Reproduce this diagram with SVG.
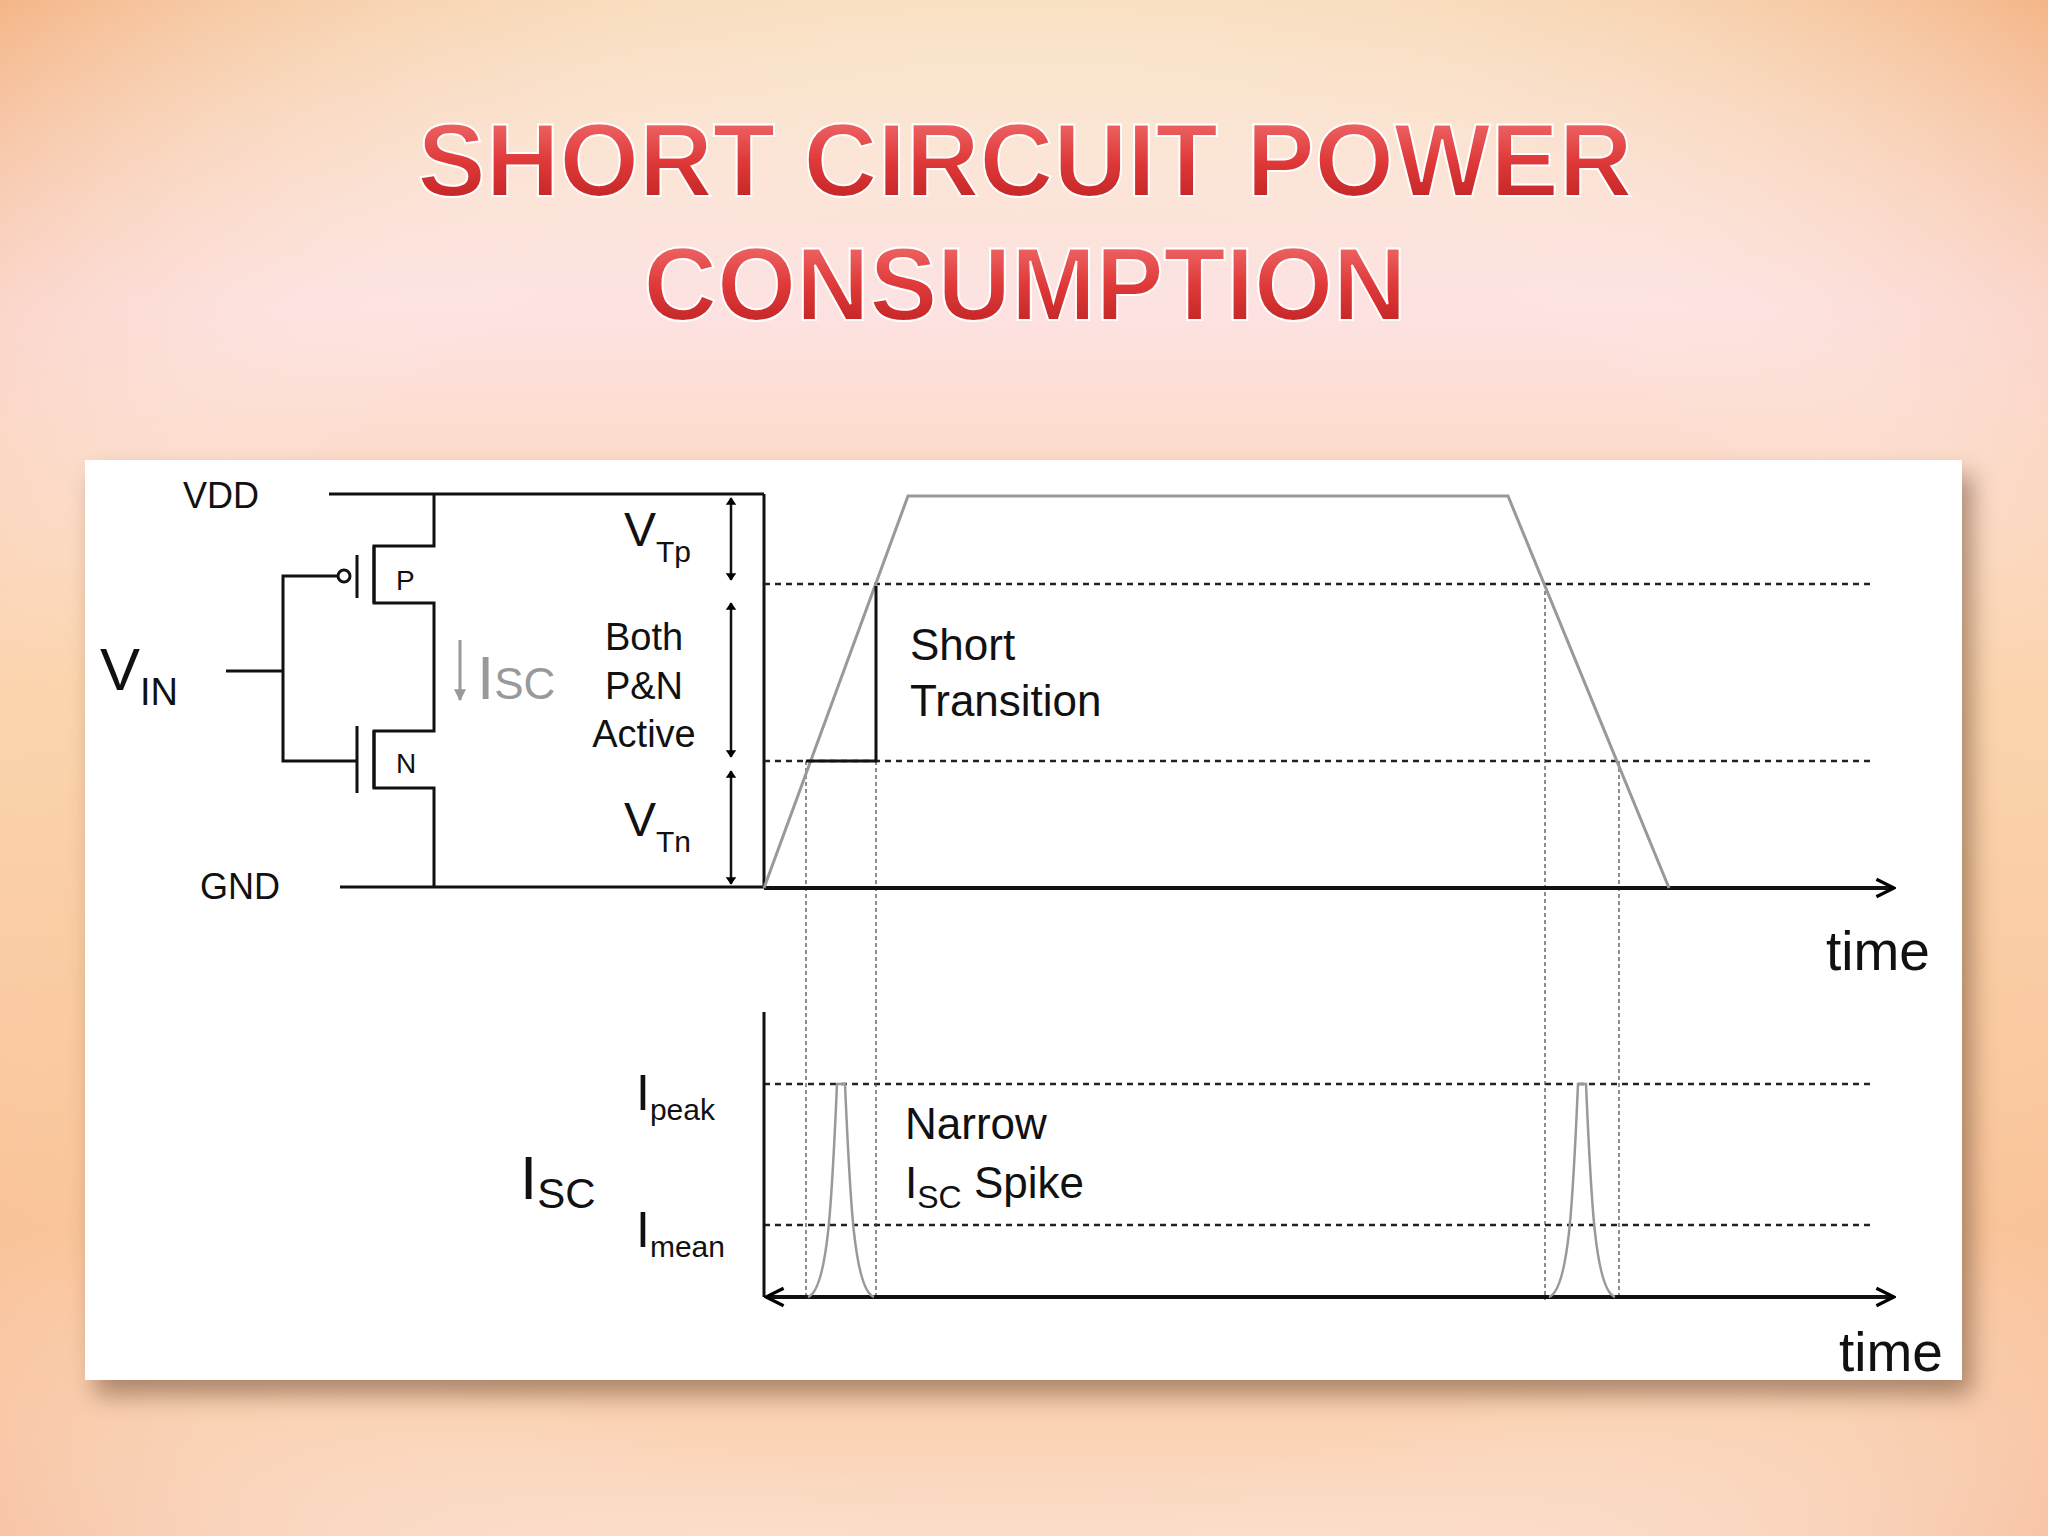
<svg xmlns="http://www.w3.org/2000/svg" width="2048" height="1536" viewBox="0 0 2048 1536">
<defs>
<linearGradient id="bg" x1="0" y1="0" x2="0" y2="1">
<stop offset="0" stop-color="#f9e6c6"/><stop offset="0.2" stop-color="#fde2e2"/><stop offset="0.45" stop-color="#fbd2a8"/><stop offset="0.8" stop-color="#f9c090"/><stop offset="1" stop-color="#fbdcc8"/>
</linearGradient>
<radialGradient id="side" cx="0.5" cy="0.55" r="0.75">
<stop offset="0.55" stop-color="#ffffff" stop-opacity="0"/><stop offset="1" stop-color="#f08a50" stop-opacity="0.55"/>
</radialGradient>
<linearGradient id="red" x1="0" y1="0" x2="0" y2="1">
<stop offset="0" stop-color="#f47a7a"/><stop offset="0.5" stop-color="#e03a3a"/><stop offset="1" stop-color="#b81c1c"/>
</linearGradient>
<filter id="sh" x="-5%" y="-5%" width="115%" height="120%"><feGaussianBlur stdDeviation="12"/></filter>
<marker id="ah" viewBox="0 0 10 16" refX="9" refY="8" markerWidth="16" markerHeight="12" orient="auto-start-reverse" markerUnits="userSpaceOnUse"><path d="M0,1 L10,8 L0,15 z" fill="#000"/></marker>
<marker id="big" viewBox="0 0 20 20" refX="18" refY="10" markerWidth="22" markerHeight="22" orient="auto-start-reverse" markerUnits="userSpaceOnUse"><path d="M2,2 L18,10 L2,18" fill="none" stroke="#000" stroke-width="3"/></marker>
<marker id="ga" viewBox="0 0 10 10" refX="5" refY="9" markerWidth="12" markerHeight="14" orient="0" markerUnits="userSpaceOnUse"><path d="M0,0 L10,0 L5,10 z" fill="#999"/></marker>
</defs>
<style>
text{font-family:"Liberation Sans",Arial,sans-serif;fill:#111}
.w{stroke:#111;stroke-width:3;fill:none}
.g{stroke:#999;stroke-width:3;fill:none}
.d{stroke:#222;stroke-width:2.5;fill:none;stroke-dasharray:6 5}
.v{stroke:#444;stroke-width:1.2;fill:none;stroke-dasharray:4 3}
.t{font-family:"Liberation Sans",Arial,sans-serif;font-weight:bold;fill:url(#red);stroke:#fff;stroke-width:2;text-anchor:middle}
</style>
<rect width="2048" height="1536" fill="url(#bg)"/>
<rect width="2048" height="1536" fill="url(#side)"/>
<g id="title">
<text class="t" x="1025" y="196" font-size="104" textLength="1215" lengthAdjust="spacingAndGlyphs">SHORT CIRCUIT POWER</text>
<text class="t" x="1025" y="320" font-size="104" textLength="763" lengthAdjust="spacingAndGlyphs">CONSUMPTION</text>
</g>
<rect x="95" y="475" width="1877" height="920" fill="#6a4a30" opacity="0.55" filter="url(#sh)"/>
<rect x="85" y="460" width="1877" height="920" fill="#fff"/>
<g id="circuit">
<path class="w" d="M329,494 H764 M340,887 H764 M434,494 V546 H374 V603 H434 V731 H374 V788 H434 V887"/>
<path class="w" d="M374,546 V603 M374,731 V788 M357,555 V598 M357,726 V793"/>
<circle cx="344" cy="576" r="6" class="w"/>
<path class="w" d="M338,576 H283 V761 H357 M226,671 H283"/>
<line x1="460" y1="640" x2="460" y2="700" class="g" marker-end="url(#ga)"/>
<text x="183" y="508" font-size="36">VDD</text>
<text x="200" y="899" font-size="36">GND</text>
<text x="396" y="590" font-size="28">P</text>
<text x="396" y="773" font-size="28">N</text>
<text x="100" y="690" font-size="60">V<tspan font-size="38" dy="15">IN</tspan></text>
<text x="477" y="699" font-size="62" style="fill:#999">I<tspan font-size="44">SC</tspan></text>
</g>
<g id="labels">
<text x="624" y="546" font-size="48">V<tspan font-size="30" dy="16">Tp</tspan></text>
<text x="644" y="650" font-size="38" text-anchor="middle">Both</text>
<text x="644" y="699" font-size="38" text-anchor="middle">P&amp;N</text>
<text x="644" y="747" font-size="38" text-anchor="middle">Active</text>
<text x="624" y="836" font-size="48">V<tspan font-size="30" dy="16">Tn</tspan></text>
<text x="910" y="660" font-size="44">Short</text>
<text x="910" y="716" font-size="44">Transition</text>
<text x="1826" y="970" font-size="55">time</text>
<text x="636" y="1110" font-size="50">I<tspan font-size="30" dy="10">peak</tspan></text>
<text x="636" y="1247" font-size="50">I<tspan font-size="30" dy="10">mean</tspan></text>
<text x="520" y="1199" font-size="62">I<tspan font-size="42" dy="9">SC</tspan></text>
<text x="905" y="1139" font-size="44">Narrow</text>
<text x="905" y="1198" font-size="44">I<tspan font-size="32" dy="10">SC</tspan><tspan dy="-10"> Spike</tspan></text>
<text x="1839" y="1371" font-size="55">time</text>
</g>
<g id="connectors">
<line x1="731" y1="498" x2="731" y2="580" stroke="#111" stroke-width="2.5" marker-start="url(#ah)" marker-end="url(#ah)"/>
<line x1="731" y1="603" x2="731" y2="757" stroke="#111" stroke-width="2.5" marker-start="url(#ah)" marker-end="url(#ah)"/>
<line x1="731" y1="771" x2="731" y2="884" stroke="#111" stroke-width="2.5" marker-start="url(#ah)" marker-end="url(#ah)"/>
<path class="w" d="M764,494 V888"/>
<path class="d" d="M764,584 H1874 M764,761 H1874 M764,1084 H1874 M764,1225 H1874"/>
<path class="v" d="M806,761 V1300 M876,586 V1300 M1545,584 V1300 M1619,761 V1300"/>
<line x1="764" y1="888" x2="1894" y2="888" stroke="#111" stroke-width="4" marker-end="url(#big)"/>
<path class="g" d="M764,888 L908,496 H1508 L1669,888"/>
<path class="w" d="M806,761 H876 V586"/>
<path class="w" d="M764,1012 V1297"/>
<line x1="766" y1="1297" x2="1894" y2="1297" stroke="#111" stroke-width="4" marker-start="url(#big)" marker-end="url(#big)"/>
<path stroke="#999" stroke-width="2.5" fill="none" d="M808,1297 C828,1290 832,1200 837,1084 H845 C850,1200 854,1290 874,1297"/>
<path stroke="#999" stroke-width="2.5" fill="none" d="M1549,1297 C1569,1290 1573,1200 1578,1084 H1586 C1591,1200 1595,1290 1615,1297"/>
</g>
</svg>
